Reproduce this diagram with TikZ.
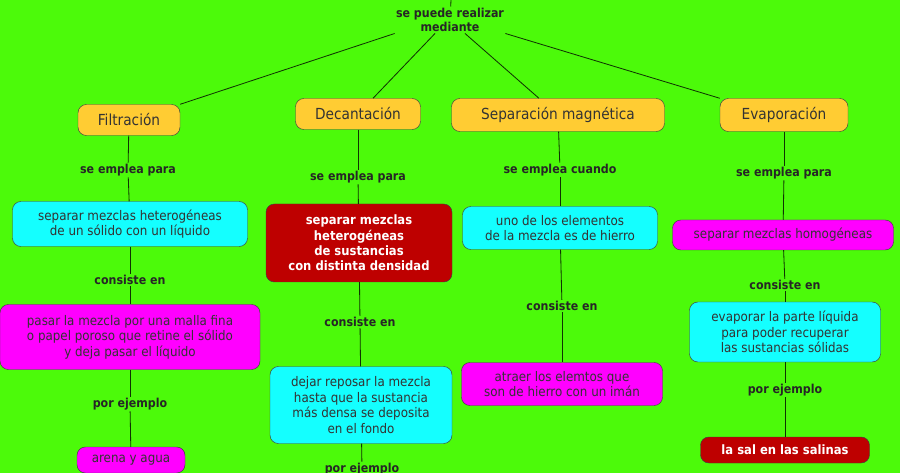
\documentclass[tikz,border=0pt]{standalone}
\usepackage{fontspec}
\setmainfont{DejaVu Sans Condensed}
\begin{document}
\begin{tikzpicture}[x=0.3mm,y=-0.3mm,
  box/.style={draw=black!75,rounded corners=2.5mm,inner sep=1pt,align=center,font=\fontsize{11.3}{13.3}\selectfont,text=black!80},
  yel/.style={box,fill=bgy,font=\fontsize{13}{15}\selectfont},
  cya/.style={box,fill=bgc},
  mag/.style={box,fill=bgm},
  red/.style={box,fill=bgr,text=white,font=\bfseries\fontsize{11}{13}\selectfont},
  lab/.style={align=center,inner sep=1pt,font=\bfseries\fontsize{10.5}{12.5}\selectfont,text=black!85},
  con/.style={draw=black!50!bgg!40!black,line width=0.7pt}]
\definecolor{bgg}{RGB}{76,250,10}
\definecolor{bgy}{RGB}{255,204,51}
\definecolor{bgc}{RGB}{20,255,255}
\definecolor{bgm}{RGB}{255,0,255}
\definecolor{bgr}{RGB}{190,0,0}
\fill[bgg] (0,0) rectangle (900,473);
\useasboundingbox (0,0) rectangle (900,473);
\coordinate (top) at (451,0);
\node[lab] (m) at (450,20) {se puede realizar\\mediante};
\node[yel,minimum width=102*0.3mm,minimum height=31*0.3mm] (f) at (129,120) {Filtración};
\node[yel,minimum width=125*0.3mm,minimum height=31*0.3mm] (d) at (358,114) {Decantación};
\node[yel,minimum width=213*0.3mm,minimum height=33*0.3mm] (s) at (558,115) {Separación magnética};
\node[yel,minimum width=128*0.3mm,minimum height=33*0.3mm] (e) at (784,115) {Evaporación};
% column 1
\node[lab] (f1) at (128,170) {se emplea para};
\node[cya,minimum width=235*0.3mm,minimum height=45*0.3mm] (f2) at (130,224) {separar mezclas heterogéneas\\de un sólido con un líquido};
\node[lab] (f3) at (130,280) {consiste en};
\node[mag,minimum width=260*0.3mm,minimum height=65*0.3mm] (f4) at (130,337) {pasar la mezcla por una malla fina\\o papel poroso que retine el sólido\\y deja pasar el líquido};
\node[lab] (f5) at (130,404) {por ejemplo};
\node[mag,minimum width=108*0.3mm,minimum height=26*0.3mm] (f6) at (131,460) {arena y agua};
% column 2
\node[lab] (d1) at (358,177) {se emplea para};
\node[red,minimum width=186*0.3mm,minimum height=78*0.3mm] (d2) at (359,243) {separar mezclas\\heterogéneas\\de sustancias\\con distinta densidad};
\node[lab] (d3) at (360,322) {consiste en};
\node[cya,minimum width=182*0.3mm,minimum height=77*0.3mm] (d4) at (361,405) {dejar reposar la mezcla\\hasta que la sustancia\\más densa se deposita\\en el fondo};
\node[lab] (d5) at (362,469) {por ejemplo};
% column 3
\node[lab] (s1) at (560,170) {se emplea cuando};
\node[cya,minimum width=195*0.3mm,minimum height=43*0.3mm] (s2) at (560,228) {uno de los elementos\\de la mezcla es de hierro};
\node[lab] (s3) at (562,306) {consiste en};
\node[mag,minimum width=201*0.3mm,minimum height=43*0.3mm] (s4) at (562,384) {atraer los elemtos que\\son de hierro con un imán};
% column 4
\node[lab] (e1) at (784,173) {se emplea para};
\node[mag,minimum width=221*0.3mm,minimum height=30*0.3mm] (e2) at (783,235) {separar mezclas homogéneas};
\node[lab] (e3) at (785,285) {consiste en};
\node[cya,minimum width=191*0.3mm,minimum height=60*0.3mm] (e4) at (785,332) {evaporar la parte líquida\\para poder recuperar\\las sustancias sólidas};
\node[lab] (e5) at (785,390) {por ejemplo};
\node[red,minimum width=169*0.3mm,minimum height=26*0.3mm] (e6) at (785,450) {la sal en las salinas};
% connectors
\draw[con] (top) -- (m);
\draw[con] (m.south west) -- (f.north east);
\draw[con] (m.south) ++(-15,0) -- (d);
\draw[con] (m.south) ++(15,0) -- (s);
\draw[con] (m.south east) -- (e.north west);
\foreach \a/\b in {f/f1,f1/f2,f2/f3,f3/f4,f4/f5,f5/f6,d/d1,d1/d2,d2/d3,d3/d4,d4/d5,s/s1,s1/s2,s2/s3,s3/s4,e/e1,e1/e2,e2/e3,e3/e4,e4/e5,e5/e6}
  \draw[con] (\a) -- (\b);
\end{tikzpicture}
\end{document}
